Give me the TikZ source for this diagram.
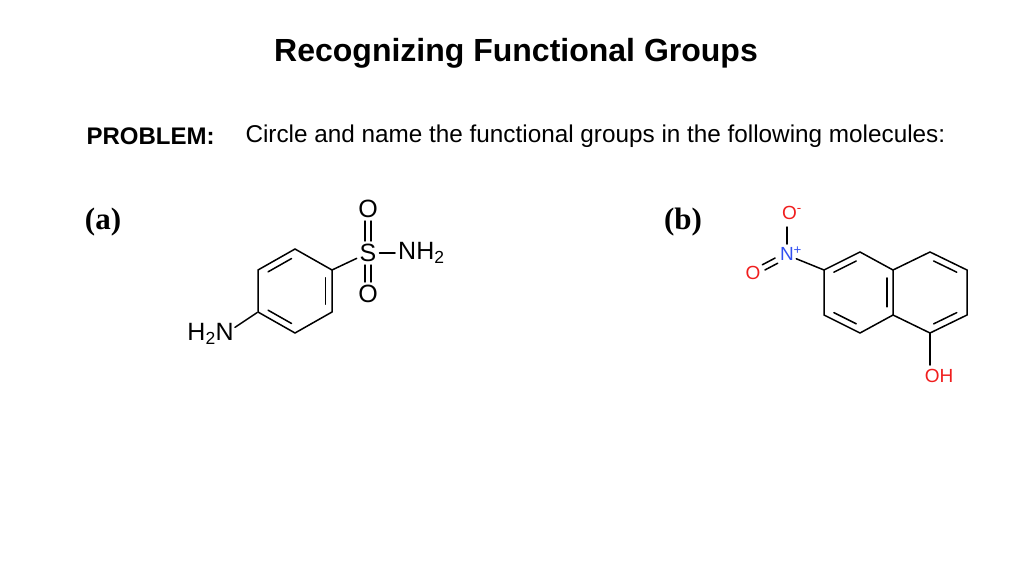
\documentclass[tikz,border=0pt]{standalone}
\usepackage{fontspec}
\setmainfont{Liberation Sans}
\newfontfamily\serifb{Liberation Serif}
\usetikzlibrary{calc}
\definecolor{ored}{RGB}{240,30,30}
\definecolor{nblue}{RGB}{50,80,240}
\tikzset{bond/.style={line width=1.5pt,line cap=round},
 atom/.style={inner sep=1pt,font=\fontsize{25}{25}\selectfont},
 small/.style={inner sep=1pt,font=\fontsize{19}{19}\selectfont}}
\newcommand\inb[3]{\draw[bond,shorten <=4pt,shorten >=4pt] ($(#1)!0.18!(#3)$) -- ($(#2)!0.18!(#3)$);}
\begin{document}
\begin{tikzpicture}[x=1pt,y=-1pt]
\useasboundingbox (0,0) rectangle (1024,576);
\node[font=\bfseries\fontsize{32}{32}\selectfont] (title) at (516,53) {Recognizing Functional Groups};
\node[anchor=west,font=\bfseries\fontsize{24}{24}\selectfont] (prob) at (83,136) {PROBLEM:};
\node[anchor=west,font=\fontsize{24.3}{24.3}\selectfont] (txt) at (242,136) {Circle and name the functional groups in the following molecules:};
\node[font=\serifb\bfseries\fontsize{31}{31}\selectfont] (la) at (103,222) {(a)};
\node[font=\serifb\bfseries\fontsize{31}{31}\selectfont] (lb) at (683,222) {(b)};
% molecule a
\coordinate (a1) at (295,249); \coordinate (a2) at (332,270); \coordinate (a3) at (332,312);
\coordinate (a4) at (295,333); \coordinate (a5) at (258,312); \coordinate (a6) at (258,270);
\coordinate (ac) at (295,291);
\draw[bond] (a1)--(a2)--(a3)--(a4)--(a5)--(a6)--cycle;
\inb{a6}{a1}{ac} \inb{a2}{a3}{ac} \inb{a4}{a5}{ac}
\node[atom] (S) at (368,253) {S};
\node[atom] (O1) at (368,209) {O};
\node[atom] (O2) at (368,294) {O};
\node[atom,anchor=west] (N1) at (397,253) {NH\textsubscript{2}};
\node[atom,anchor=east] (N2) at (235,334) {H\textsubscript{2}N};
\draw[bond,shorten <=2pt] (S)--(a2);
\draw[bond,shorten <=2pt,shorten >=2pt] (S.east)--(N1.west);
\draw[bond,shorten >=1pt] (N2.north east)++(0,5) -- (a5);
\foreach \s in {-3,3}{
\draw[bond,shorten <=2pt,shorten >=2pt] ([xshift=\s pt]S.north)--([xshift=\s pt]O1.south);
\draw[bond,shorten <=2pt,shorten >=2pt] ([xshift=\s pt]S.south)--([xshift=\s pt]O2.north);}
% molecule b
\coordinate (b1) at (860,252); \coordinate (b2) at (893,270); \coordinate (b3) at (893,315);
\coordinate (b4) at (860,333); \coordinate (b5) at (824,315); \coordinate (b6) at (824,270);
\coordinate (bc) at (859,292);
\coordinate (c1) at (930,252); \coordinate (c2) at (967,270); \coordinate (c3) at (967,315);
\coordinate (c4) at (930,333); \coordinate (cc) at (930,292);
\draw[bond] (b1)--(b2)--(b3)--(b4)--(b5)--(b6)--cycle;
\draw[bond] (b2)--(c1)--(c2)--(c3)--(c4)--(b3);
\inb{b6}{b1}{bc} \inb{b2}{b3}{bc} \inb{b4}{b5}{bc}
\inb{c1}{c2}{cc} \inb{c3}{c4}{cc}
\node[small,text=ored] (OH) at (939,376) {OH};
\draw[bond] (c4)--(930,365);
\coordinate (Nc) at (787,255);
\node[small,text=nblue] (Np) at (791,254) {N\textsuperscript{+}};
\node[small,text=ored] (Om) at (792,213) {O\textsuperscript{\raisebox{1pt}{-}}};
\node[small,text=ored] (O3) at (753,273) {O};
\draw[bond,shorten <=10pt] (Nc)--(b6);
\draw[bond] (787,244)--(787,227);
\draw[bond] ($($(Nc)!12pt!(O3)$)+(1.3,2.6)$)--($($(O3)!12pt!(Nc)$)+(1.3,2.6)$);
\draw[bond] ($($(Nc)!12pt!(O3)$)-(1.3,2.6)$)--($($(O3)!12pt!(Nc)$)-(1.3,2.6)$);
\end{tikzpicture}
\end{document}
